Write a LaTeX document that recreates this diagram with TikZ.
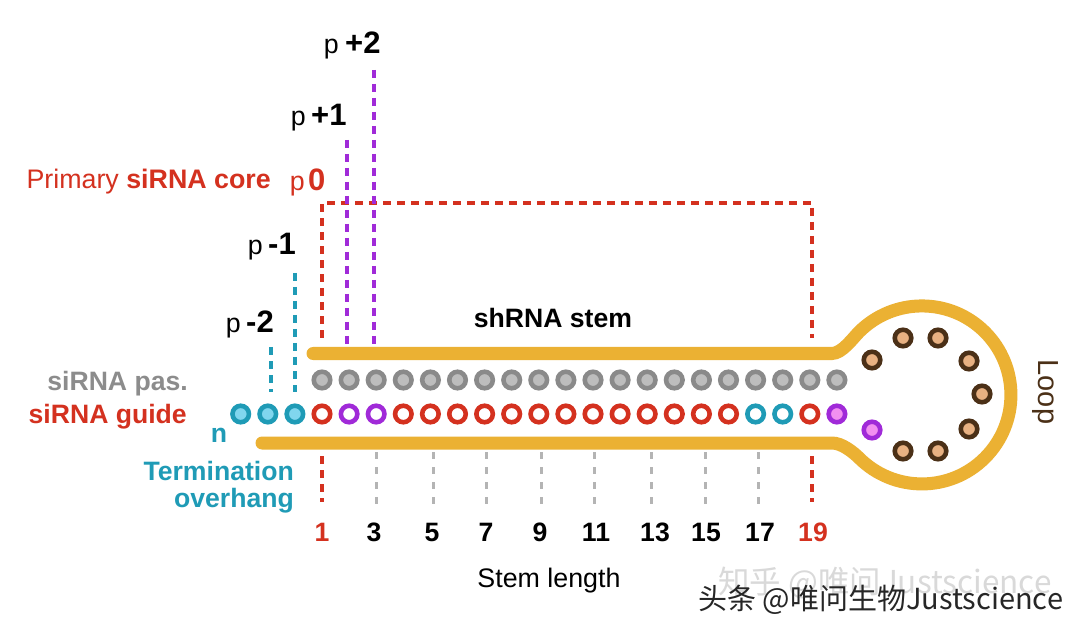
\documentclass[tikz,border=0pt]{standalone}
\usepackage{fontspec}
\setmainfont{Liberation Sans}
\newfontfamily\cjk{Noto Sans CJK SC}
\definecolor{cred}{HTML}{D4311F}
\definecolor{ccyan}{HTML}{1F9BB6}
\definecolor{ccyanfill}{HTML}{80D6EE}
\definecolor{cpurp}{HTML}{A02AD8}
\definecolor{cpink}{HTML}{F28FF0}
\definecolor{cgold}{HTML}{EBB133}
\definecolor{cgrayring}{HTML}{8A8A8A}
\definecolor{cgrayfill}{HTML}{BDBDBD}
\definecolor{cgraytext}{HTML}{8C8C8C}
\definecolor{cgraydash}{HTML}{B4B4B4}
\definecolor{cbrown}{HTML}{4B3017}
\definecolor{ctan}{HTML}{E8B182}
\begin{document}
\begin{tikzpicture}[x=1pt,y=-1pt,
  bead/.style={circle,minimum size=16.5pt,inner sep=0pt,line width=4.6pt},
  pasbead/.style={bead,draw=cgrayring,fill=cgrayfill},
  redbead/.style={bead,draw=cred,fill=white},
  purpbead/.style={bead,draw=cpurp,fill=white},
  pinkbead/.style={bead,draw=cpurp,fill=cpink},
  cyanbead/.style={bead,draw=ccyan,fill=ccyanfill},
  cyanring/.style={bead,draw=ccyan,fill=white},
  loopbead/.style={bead,draw=cbrown,fill=ctan},
  ddash/.style={line width=3.6pt,dash pattern=on 8pt off 6pt},
  reddash/.style={ddash,draw=cred},
  purpdash/.style={ddash,draw=cpurp},
  cyandash/.style={ddash,draw=ccyan},
  graydash/.style={line width=3pt,draw=cgraydash,dash pattern=on 7pt off 8pt},
  txt/.style={inner sep=0pt,font=\fontsize{26.8}{30}\selectfont},
  btxt/.style={inner sep=0pt,font=\fontsize{26.6}{30}\selectfont\bfseries},
  pnum/.style={inner sep=0pt,font=\fontsize{31}{34}\selectfont\bfseries},
  strand/.style={draw=cgold,line width=13pt,line cap=round}
]
\useasboundingbox[fill=white] (0,0) rectangle (1080,631);

% gold strands and loop
\draw[strand] (313,353.5) -- (832,353.5) .. controls (842,353.5) and (853.3,337.7) .. (859,332)
  arc[start angle=225,end angle=495,radius=89]
  .. controls (853.3,452.3) and (842,443) .. (832,443) -- (262,443);

% passenger strand beads
\foreach \i in {1,...,20}
  \node[pasbead] (s\i) at ({322+27.1*(\i-1)},380) {};

% guide strand beads
\foreach \i/\st in {-2/cyanbead,-1/cyanbead,0/cyanbead,1/redbead,2/purpbead,3/purpbead,
  4/redbead,5/redbead,6/redbead,7/redbead,8/redbead,9/redbead,10/redbead,11/redbead,
  12/redbead,13/redbead,14/redbead,15/redbead,16/redbead,17/cyanring,18/cyanring,
  19/redbead,20/pinkbead}
  \node[\st] (g\i) at ({322+27.1*(\i-1)},414) {};
\node[pinkbead] (g21) at (872,430) {};

% loop beads
\foreach \n/\x/\y in {1/872/360,2/903/338,3/938/338,4/969/361,5/982/394,6/969/429,7/938/451,8/903/451}
  \node[loopbead] (l\n) at (\x,\y) {};

% dashed guide lines
\coordinate (rA) at (322,338);
\coordinate (rB) at (812,338);
\coordinate (rT) at (322,203);
\draw[reddash] (rA) |- (rB |- rT) -- (rB);
\coordinate (pp1a) at (347,140); \coordinate (pp1b) at (347,347);
\draw[purpdash] (pp1a) -- (pp1b);
\coordinate (pp2a) at (374,70); \coordinate (pp2b) at (374,347);
\draw[purpdash] (pp2a) -- (pp2b);
\coordinate (pm1a) at (295,273); \coordinate (pm1b) at (295,392);
\draw[cyandash] (pm1a) -- (pm1b);
\coordinate (pm2a) at (271,347); \coordinate (pm2b) at (271,392);
\draw[cyandash] (pm2a) -- (pm2b);

% bottom ticks
\coordinate (b1a) at (322,456); \coordinate (b1b) at (322,502);
\draw[reddash] (b1a) -- (b1b);
\coordinate (b19a) at (812,456); \coordinate (b19b) at (812,502);
\draw[reddash] (b19a) -- (b19b);
\foreach \x in {376,433,486,541,594,651,705,758}
  \draw[graydash] (\x,452) -- (\x,505);

% stem length numbers
\node[btxt,text=cred,anchor=base] (n1) at (322,541) {1};
\foreach \n/\x in {3/374,5/432,7/486,9/540,11/596,13/655,15/706,17/760}
  \node[btxt,anchor=base] (n\n) at (\x,541) {\n};
\node[btxt,text=cred,anchor=base] (n19) at (813,541) {19};
\node[txt,anchor=base] (stemlen) at (549,587) {Stem length};

% position labels
\node[txt,anchor=base east] (pl2) at (339,54) {p};
\node[pnum,anchor=base west] (pn2) at (345,54) {+2};
\node[txt,anchor=base east] (pl1) at (306,126) {p};
\node[pnum,anchor=base west] (pn1) at (311,126) {+1};
\node[txt,anchor=base east,text=cred] (pl0) at (305,191) {p};
\node[pnum,anchor=base west,text=cred] (pn0) at (308,191) {0};
\node[txt,anchor=base east] (plm1) at (263,255) {p};
\node[pnum,anchor=base west] (pnm1) at (268,255) {-1};
\node[txt,anchor=base east] (plm2) at (241,333) {p};
\node[pnum,anchor=base west] (pnm2) at (246,333) {-2};

% left labels
\node[txt,anchor=base east,text=cred] (core) at (271,189) {Primary \textbf{siRNA core}};
\node[btxt,anchor=base east,text=cgraytext] (pas) at (188,390) {siRNA pas.};
\node[btxt,anchor=base east,text=cred] (guide) at (187,423) {siRNA guide};
\node[btxt,anchor=base,text=ccyan] (nlab) at (219,442) {n};
\node[btxt,anchor=base east,text=ccyan] (term) at (294,480) {Termination};
\node[btxt,anchor=base east,text=ccyan] (over) at (294,507) {overhang};

% other labels
\node[btxt,anchor=base] (stem) at (553,327) {shRNA stem};
\node[txt,rotate=-90,text=cbrown,font=\fontsize{29}{32}\selectfont] (loop) at (1045,392) {Loop};

% watermarks
\node[inner sep=0pt,anchor=base west,text=black!15,font=\cjk\fontsize{31.5}{34}\selectfont] (wm1) at (718,593) {知乎 @唯问Justscience};
\node[inner sep=0pt,anchor=base west,text=black!85,font=\cjk\fontsize{29}{32}\selectfont] (wm2) at (698,609) {头条 @唯问生物Justscience};
\end{tikzpicture}
\end{document}
